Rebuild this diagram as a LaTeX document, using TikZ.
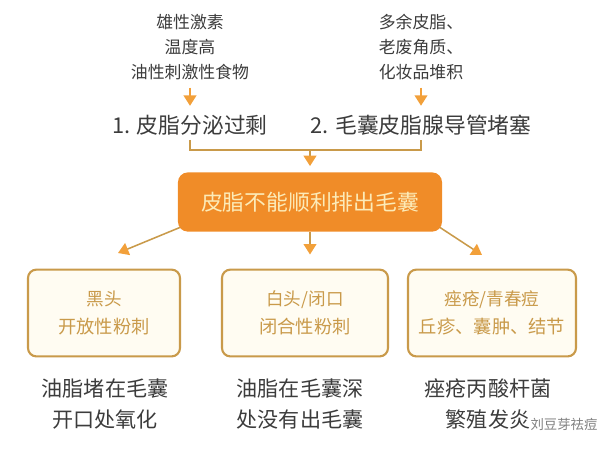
\documentclass[tikz,border=0pt]{standalone}
\usepackage{fontspec}
\newfontfamily\cjk{Noto Sans CJK SC}
\usetikzlibrary{arrows.meta, positioning}
\definecolor{corange}{HTML}{F08C28}
\definecolor{cgold}{HTML}{C99A4A}
\definecolor{ctip}{HTML}{F2A03A}
\definecolor{ccream}{HTML}{FFFCF2}
\definecolor{cpale}{HTML}{FCEBB8}
\definecolor{cink}{HTML}{3C3C3C}
\tikzset{
  every picture/.style={font=\cjk, line width=1pt},
  box/.style={draw=cgold, fill=ccream, rounded corners=6pt, align=center, text=cgold, line width=1.5pt, minimum height=2.17cm, font=\cjk\fontsize{13}{19.5}\selectfont},
  mainbox/.style={fill=corange, rounded corners=7pt, text=cpale, minimum width=6.6cm, minimum height=1.48cm, font=\cjk\fontsize{15.5}{18}\selectfont},
  cause/.style={align=center, text=cink, inner sep=1pt, font=\cjk\fontsize{12}{17.8}\selectfont},
  reason/.style={text=cink, inner sep=1pt, font=\cjk\fontsize{15.5}{18}\selectfont},
  note/.style={align=center, text=cink, font=\cjk\fontsize{15}{22.6}\selectfont},
  link/.style={draw=cgold, line width=1.1pt},
  arrow/.style={-{Triangle[length=2.6mm, width=3.2mm]}, draw=cgold, line width=1.1pt, color=ctip},
  linkarrow/.style={-{Triangle[length=2.6mm, width=3.2mm, fill=ctip, color=ctip]}, draw=cgold, line width=1.1pt},
}

\begin{document}
\begin{tikzpicture}[x=0.025cm, y=-0.025cm]
  \useasboundingbox (0,0) rectangle (600,450);
  \node[cause] (hormone) at (190,47) {雄性激素\\温度高\\油性刺激性食物};
  \node[cause] (residue) at (421,47) {多余皮脂、\\老废角质、\\化妆品堆积};
  \node[reason] (excess) at (190,125) {1. 皮脂分泌过剩};
  \node[reason] (blocked) at (421,125) {2. 毛囊皮脂腺导管堵塞};
  \draw[arrow, shorten <=4pt, shorten >=5pt] (hormone) -- (excess);
  \draw[arrow, shorten <=4pt, shorten >=5pt] (residue) -- (blocked);
  \coordinate (join) at (310,150);
  \draw[link] ([yshift=-2pt]excess.south) |- (join) -| ([yshift=-2pt]blocked.south);
  \node[mainbox] (block) at (310,202) {皮脂不能顺利排出毛囊};
  \draw[linkarrow, shorten >=4pt] (join) -- (block);
  % three kinds of acne
  \node[box, minimum width=3.8cm] (blackhead) at (104,313) {{\fontsize{12.5}{19.5}\selectfont 黑头}\\开放性粉刺};
  \node[box, minimum width=4.15cm] (whitehead) at (305,313) {{\fontsize{12.5}{19.5}\selectfont 白头/闭口}\\闭合性粉刺};
  \node[box, minimum width=4.2cm] (pimple) at (492,313) {{\fontsize{12.5}{19.5}\selectfont 痤疮/青春痘}\\丘疹、囊肿、结节};
  \coordinate (tipleft) at (118,253);
  \coordinate (tipright) at (482,255);
  \draw[linkarrow] ([shift={(3,-5)}]block.south west) -- (tipleft);
  \draw[linkarrow, shorten >=10pt] (block.south) -- (block.south |- whitehead.north);
  \draw[linkarrow] ([shift={(-3,-5)}]block.south east) -- (tipright);
  \node[note] (blacknote) at (105,404) {油脂堵在毛囊\\开口处氧化};
  \node[note] (whitenote) at (300,404) {油脂在毛囊深\\处没有出毛囊};
  \node[note] (pimplenote) at (488,404) {痤疮丙酸杆菌\\繁殖发炎};
  \node[text=gray, inner sep=1pt, font=\cjk\fontsize{9.5}{11}\selectfont] (mark) at (564,424) {刘豆芽祛痘};
\end{tikzpicture}
\end{document}
